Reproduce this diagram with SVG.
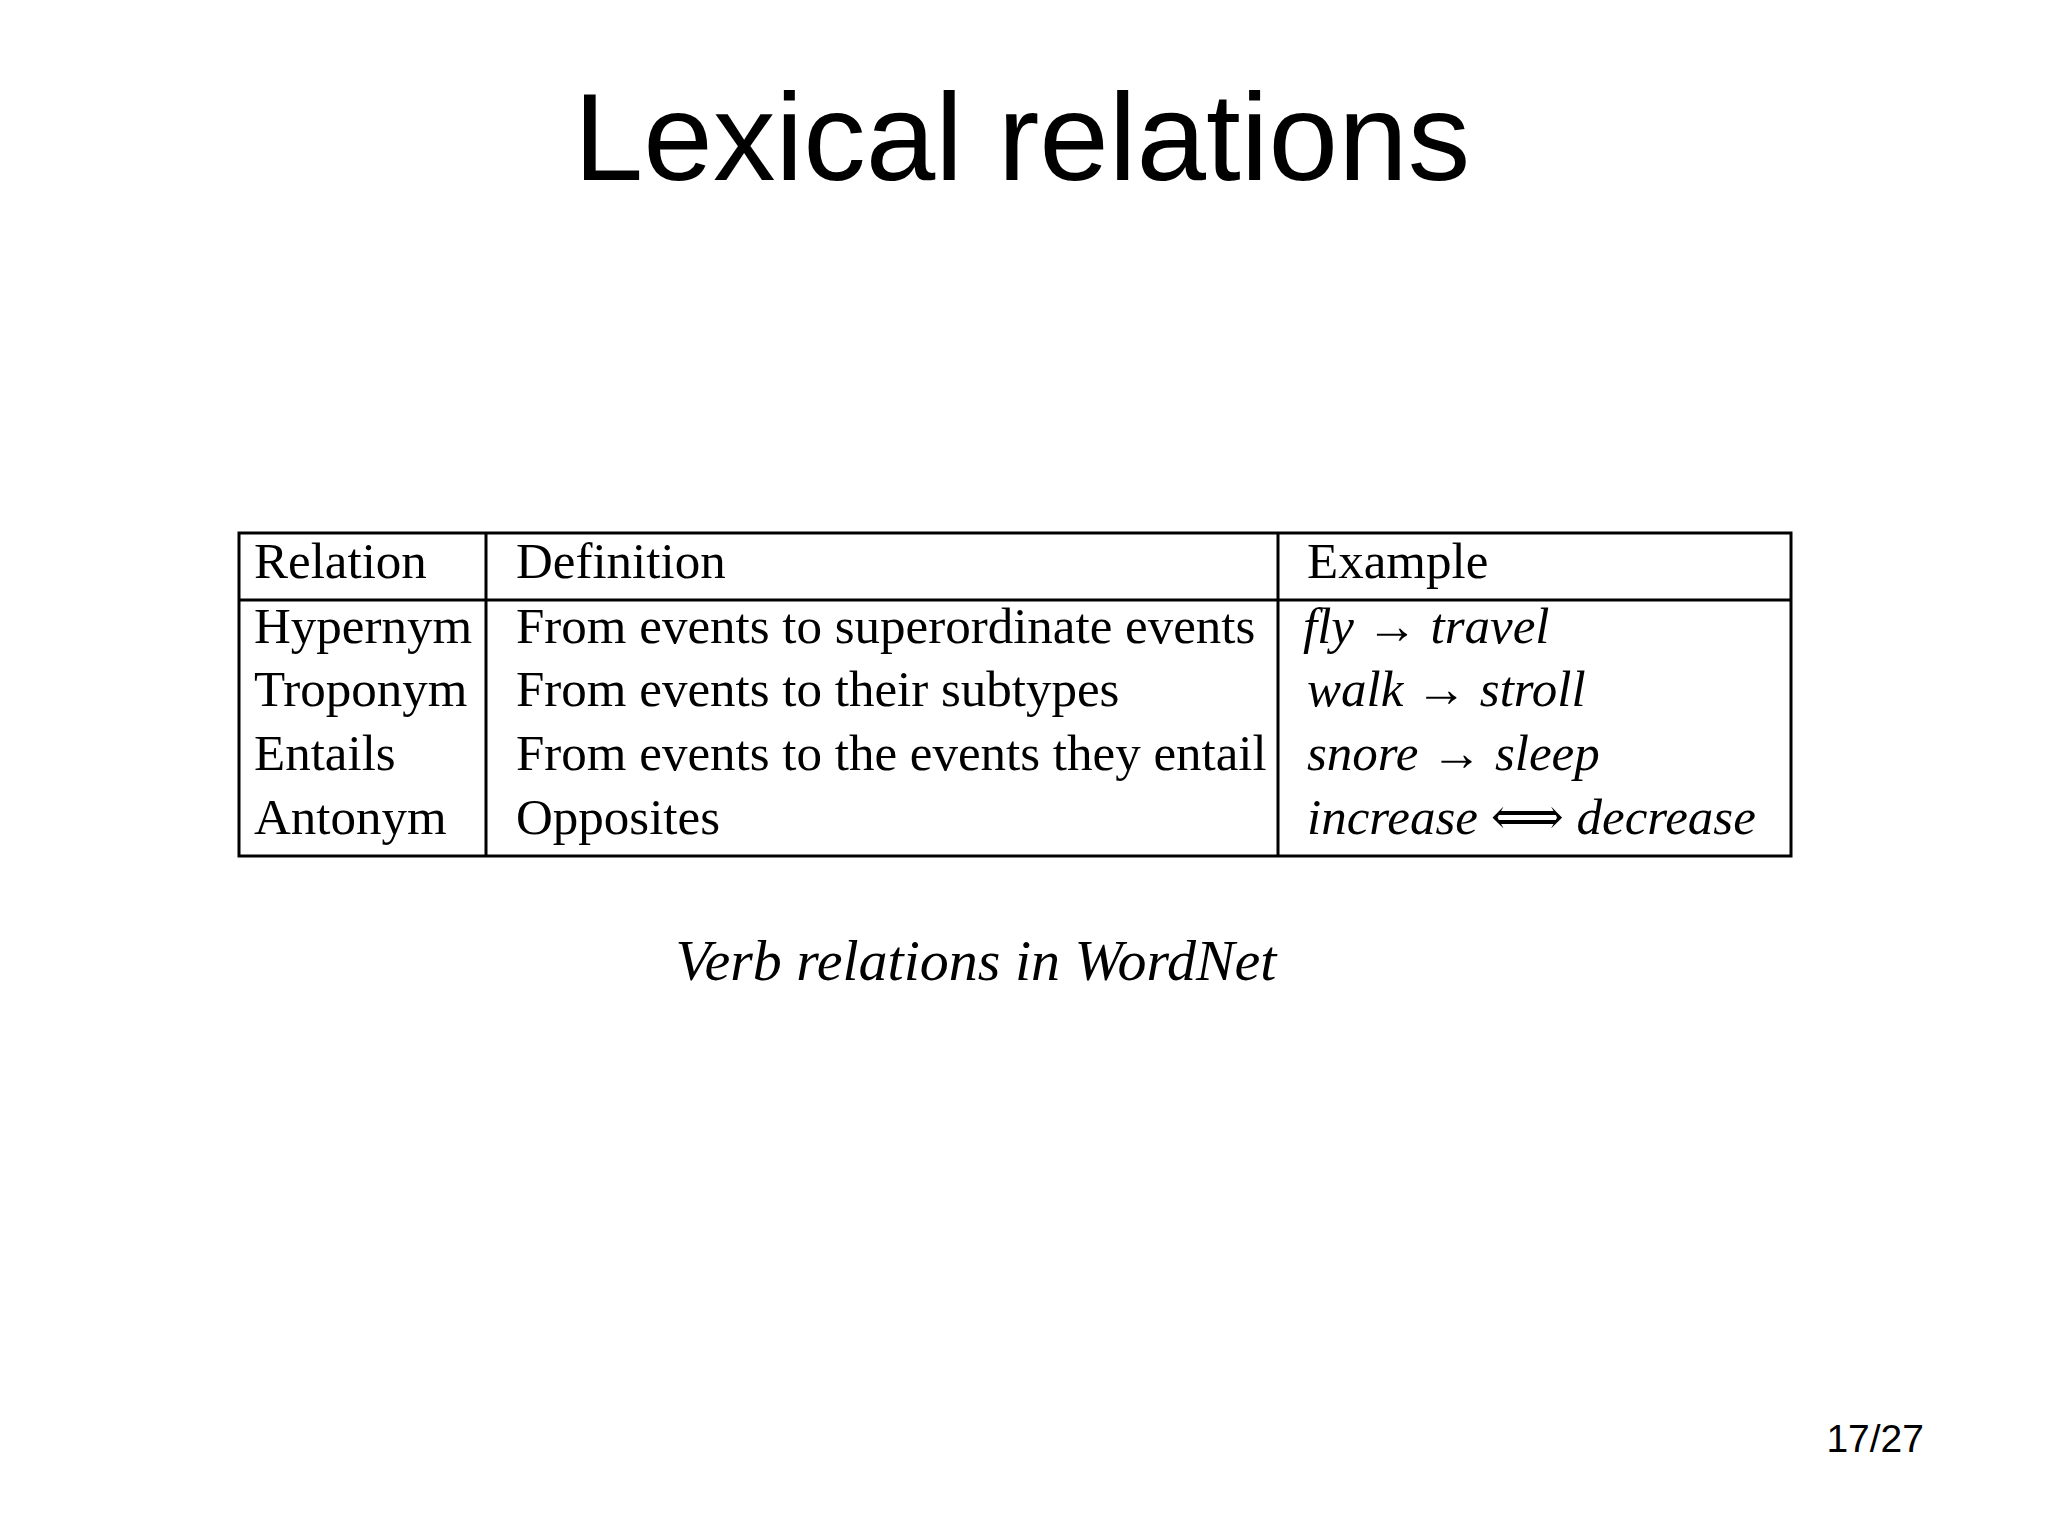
<svg xmlns="http://www.w3.org/2000/svg" width="2048" height="1536" viewBox="0 0 2048 1536">
<style>
.t{font-family:"Liberation Serif","DejaVu Serif",serif;font-size:51px;fill:#000}
.i{font-style:italic}
.ln{stroke:#000;stroke-width:3;fill:none}
</style>
<rect width="2048" height="1536" fill="#fff"/>
<text x="1022" y="180" text-anchor="middle" font-family="Liberation Sans, Arial, sans-serif" font-size="125">Lexical relations</text>
<g id="table">
<rect class="ln" x="239" y="533" width="1552" height="323"/>
<line class="ln" x1="239" y1="600" x2="1791" y2="600"/>
<line class="ln" x1="486" y1="533" x2="486" y2="856"/>
<line class="ln" x1="1278" y1="533" x2="1278" y2="856"/>
</g>
<g id="col1">
<text class="t" x="254" y="578">Relation</text>
<text class="t" x="254" y="643">Hypernym</text>
<text class="t" x="254" y="706">Troponym</text>
<text class="t" x="254" y="770">Entails</text>
<text class="t" x="254" y="834">Antonym</text>
</g>
<g id="col2">
<text class="t" x="516" y="578">Definition</text>
<text class="t" x="516" y="643">From events to superordinate events</text>
<text class="t" x="516" y="706">From events to their subtypes</text>
<text class="t" x="516" y="770">From events to the events they entail</text>
<text class="t" x="516" y="834">Opposites</text>
</g>
<g id="col3">
<text class="t" x="1307" y="578">Example</text>
<text class="t i" x="1303" y="643">fly → travel</text>
<text class="t i" x="1307" y="706">walk → stroll</text>
<text class="t i" x="1307" y="770">snore → sleep</text>
<text class="t i" x="1307" y="834">increase ⟺ decrease</text>
</g>
<text class="t i" x="976" y="980" text-anchor="middle" style="font-size:58px">Verb relations in WordNet</text>
<text x="1924" y="1452" text-anchor="end" font-family="Liberation Sans, Arial, sans-serif" font-size="39">17/27</text>
</svg>
